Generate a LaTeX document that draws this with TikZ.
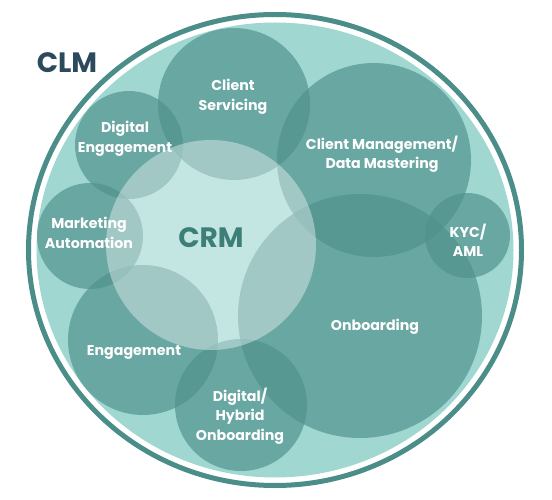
\documentclass[tikz,border=0pt]{standalone}
\usepackage{fontspec}
\setmainfont{Poppins}
\usepackage{xcolor}
\definecolor{clmring}{RGB}{75,142,137}
\definecolor{clmfill}{RGB}{160,216,209}
\definecolor{bubble}{RGB}{80,145,140}
\definecolor{crmtext}{RGB}{62,126,121}
\definecolor{clmtext}{RGB}{44,74,92}

\begin{document}
\begin{tikzpicture}[x=1pt,y=-1pt]
\tikzset{bubble/.style={circle,inner sep=0pt,fill=bubble,fill opacity=0.68,minimum size=#1}}
\tikzset{crm/.style={circle,inner sep=0pt,fill=white,fill opacity=0.38,minimum size=#1}}
\tikzset{tag/.style={text=white,font=\bfseries\fontsize{14.2}{19.5}\selectfont,align=center}}
\tikzset{big/.style={font=\bfseries\fontsize{28}{30}\selectfont}}

\useasboundingbox (0,0) rectangle (552,500);
\fill[white] (0,0) rectangle (552,500);

% the CLM frame
\draw[clmring,line width=5pt] (275,250) ellipse [x radius=246.5,y radius=235.5];
\fill[clmfill] (275,250) ellipse [x radius=238.5,y radius=227.5];

% bubbles
\node[bubble=152pt] (serv) at (234,104) {};
\node[bubble=108pt] (deng) at (129,145) {};
\node[bubble=194pt] (cmdm) at (374,160) {};
\node[bubble=106pt] (mkta) at (90,236) {};
\node[bubble=85pt]  (kyc)  at (467.5,235.5) {};
\node[bubble=244pt] (onb)  at (360,316) {};
\node[bubble=150pt] (eng)  at (143,340) {};
\node[bubble=132pt] (dho)  at (241,405) {};
\node[crm=210pt]    (crm)  at (211,245) {};

% labels
\node[tag] (servt) at (233,97) {Client\\Servicing};
\node[tag] (dengt) at (125,139) {Digital\\Engagement};
\node[tag] (cmdmt) at (382,154) {Client Management/\\Data Mastering};
\node[tag] (mktat) at (89,233) {Marketing\\Automation};
\node[tag] (kyct)  at (468,240.5) {KYC/\\AML};
\node[tag] (onbt)  at (375,327) {Onboarding};
\node[tag] (engt)  at (134,352) {Engagement};
\node[tag] (dhot)  at (240,416) {Digital/\\Hybrid\\Onboarding};
\node[big,text=crmtext] (crmt) at (211,238) {CRM};
\node[big,text=clmtext] (clmt) at (67,62.5) {CLM};

\end{tikzpicture}
\end{document}
